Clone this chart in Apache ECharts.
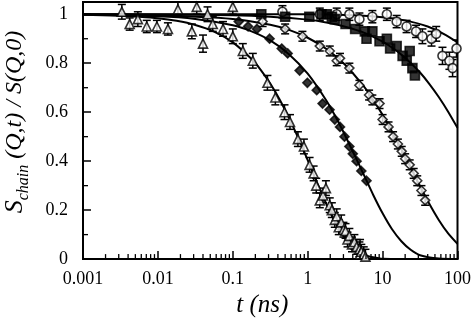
<!DOCTYPE html>
<html>
<head>
<meta charset="utf-8">
<script src="https://cdn.jsdelivr.net/npm/echarts@6/dist/echarts.min.js"></script>
<style>
html,body{margin:0;padding:0;background:#fff;}
#chart{width:474px;height:323px;}
</style>
</head>
<body>
<div id="chart"></div>
<script>
// Tick labels
const xTickLabels = ['0.001', '0.01', '0.1', '1', '10', '100'];
const yTickValues = [0, 0.2, 0.4, 0.6, 0.8, 1];
const yTickLabels = ['0', '0.2', '0.4', '0.6', '0.8', '1'];
const xMinorTicks = [0.002,0.003,0.004,0.005,0.006,0.007,0.008,0.009,
  0.02,0.03,0.04,0.05,0.06,0.07,0.08,0.09,
  0.2,0.3,0.4,0.5,0.6,0.7,0.8,0.9,
  2,3,4,5,6,7,8,9,
  20,30,40,50,60,70,80,90];
const yMinorTicks = [0.1, 0.3, 0.5, 0.7, 0.9];

// Measured S_chain(Q,t)/S(Q,0), largest Q first
const tA = [0.0033,0.0042,0.0054,0.0071,0.0097,0.0136,0.0185,0.0284,0.033,0.04,0.046,0.054,0.074,0.1,0.1,0.136,0.185,0.29,0.37,0.49,0.58,0.74,0.89,1.06,1.2,1.3,1.45,1.6,1.75,1.97,2.1,2.3,2.44,2.6,2.8,3.0,3.2,3.4,3.6,3.9,4.2,4.5,4.9,5.0,5.2,5.6,5.9];
const sA = [1.01,0.96,0.98,0.95,0.95,0.94,1.02,0.93,1.03,0.88,1.0,0.96,0.94,1.03,0.91,0.85,0.81,0.72,0.66,0.60,0.56,0.49,0.46,0.385,0.35,0.30,0.24,0.26,0.29,0.22,0.20,0.16,0.175,0.13,0.15,0.12,0.115,0.08,0.095,0.06,0.07,0.05,0.04,0.02,0.03,0.02,0.01];
const eA = [0.03,0.025,0.03,0.025,0.025,0.025,0.03,0.03,0.03,0.035,0.03,0.03,0.03,0.03,0.03,0.03,0.03,0.03,0.03,0.03,0.03,0.03,0.03,0.03,0.03,0.03,0.03,0.03,0.03,0.03,0.03,0.03,0.03,0.03,0.03,0.03,0.03,0.03,0.03,0.03,0.03,0.03,0.03,0.06,0.03,0.03,0.03];

const tB = [0.12,0.16,0.21,0.31,0.45,0.54,0.78,0.99,1.32,1.58,1.96,2.3,2.7,3.1,3.6,4.0,4.5,5.2,6.1];
const sB = [0.97,0.95,0.94,0.90,0.86,0.84,0.77,0.72,0.69,0.635,0.61,0.57,0.54,0.50,0.46,0.43,0.40,0.36,0.32];

const tC = [0.25,0.5,0.85,1.45,1.97,2.44,2.7,3.6,4.9,6.6,7.3,9.1,10,12,13.8,16,18,20,23,26,29,33,37];
const sC = [0.97,0.94,0.91,0.87,0.85,0.81,0.82,0.78,0.71,0.67,0.65,0.635,0.57,0.54,0.50,0.47,0.44,0.41,0.385,0.35,0.32,0.28,0.24];
const eC = [0.02,0.02,0.02,0.02,0.02,0.02,0.02,0.02,0.02,0.02,0.02,0.02,0.02,0.02,0.02,0.02,0.02,0.02,0.02,0.02,0.02,0.02,0.02];

const tD = [0.24,0.5,1.05,1.53,1.8,2.1,2.3,3.2,4.3,5.8,6.1,7.3,9.1,11.4,12.6,15.4,18.5,21,23,25,27];
const sD = [1.0,0.99,0.99,1.0,1.0,0.99,0.98,0.96,0.94,0.93,0.90,0.93,0.89,0.90,0.86,0.87,0.83,0.81,0.85,0.78,0.75];

const tE = [0.46,1.45,2.44,3.6,4.9,7.3,11.4,15.4,20.9,28,34,45,52,63,78,86,97];
const sE = [1.01,1.0,1.0,1.0,0.98,0.99,1.0,0.97,0.95,0.93,0.91,0.90,0.92,0.83,0.81,0.78,0.86];
const eE = [0.025,0.025,0.025,0.025,0.025,0.025,0.025,0.025,0.025,0.025,0.03,0.03,0.03,0.035,0.035,0.035,0.035];

// Fitted curves
const fitAt = [0.001,0.00316,0.00562,0.01,0.0178,0.0316,0.0562,0.1,0.178,0.237,0.316,0.42,0.562,0.75,1,1.33,1.78,2.37,3.16,4.22,5.62,10,20];
const fitAs = [0.998,0.994,0.99,0.984,0.973,0.956,0.929,0.885,0.817,0.772,0.717,0.653,0.577,0.494,0.404,0.313,0.224,0.146,0.085,0.042,0.017,0.001,0];
const fitBt = [0.001,0.01,0.0316,0.1,0.178,0.316,0.562,1,1.78,2.37,3.16,4.22,5.62,7.5,10,13.3,17.8,23.7,31.6,56.2,100];
const fitBs = [0.999,0.992,0.981,0.955,0.930,0.893,0.837,0.757,0.647,0.58,0.505,0.425,0.344,0.262,0.187,0.123,0.073,0.038,0.016,0.002,0];
const fitCt = [0.001,0.01,0.1,0.316,0.562,1,1.78,3.16,5.62,7.5,10,13.3,17.8,23.7,31.6,42.2,56.2,75,100];
const fitCs = [0.999,0.996,0.981,0.957,0.936,0.904,0.858,0.794,0.705,0.65,0.589,0.522,0.449,0.373,0.298,0.225,0.16,0.105,0.062];
const fitDt = [0.001,0.01,0.1,0.316,1,1.78,3.16,5.62,10,13.3,17.8,23.7,31.6,42.2,56.2,75,100];
const fitDs = [1,0.999,0.996,0.99,0.978,0.966,0.949,0.925,0.888,0.864,0.835,0.801,0.762,0.715,0.662,0.602,0.536];
const fitEt = [0.001,1,5,10,20,40,70,100];
const fitEs = [1,1,0.995,0.988,0.975,0.95,0.915,0.885];

const zip = (a, b) => a.map((v, i) => [v, b[i]]);
const serif = 'Liberation Serif';

function curve(t, s) {
  return {
    type: 'line', data: zip(t, s), showSymbol: false, smooth: 0.2,
    lineStyle: {color: '#000', width: 2}, silent: true, z: 2
  };
}
function points(t, s, symbol, filled) {
  return {
    type: 'scatter', data: zip(t, s), symbol: symbol, symbolSize: 9,
    itemStyle: {color: filled ? '#000' : '#fff', borderColor: '#000', borderWidth: 1.6},
    silent: true, z: 4
  };
}
function errorBars(t, s, e) {
  return {
    type: 'custom', z: 3, silent: true, clip: true,
    data: t.map((v, i) => [v, s[i] - e[i], s[i] + e[i]]),
    encode: {x: 0, y: [1, 2]},
    renderItem(params, api) {
      const lo = api.coord([api.value(0), api.value(1)]);
      const hi = api.coord([api.value(0), api.value(2)]);
      const w = 4, st = {stroke: '#000', lineWidth: 1.5};
      return {type: 'group', children: [
        {type: 'line', shape: {x1: lo[0], y1: lo[1], x2: hi[0], y2: hi[1]}, style: st},
        {type: 'line', shape: {x1: lo[0] - w, y1: lo[1], x2: lo[0] + w, y2: lo[1]}, style: st},
        {type: 'line', shape: {x1: hi[0] - w, y1: hi[1], x2: hi[0] + w, y2: hi[1]}, style: st}
      ]};
    }
  };
}
// short inward ticks between the labelled ones
function minorTicks(values, horizontal) {
  return {
    type: 'custom', z: 5, silent: true, clip: false,
    data: values.map(v => horizontal ? [v, 0] : [0.001, v]),
    renderItem(params, api) {
      const p = api.coord([api.value(0), api.value(1)]);
      const shape = horizontal
        ? {x1: p[0], y1: p[1], x2: p[0], y2: p[1] - 5}
        : {x1: p[0], y1: p[1], x2: p[0] + 5, y2: p[1]};
      return {type: 'line', shape: shape, style: {stroke: '#000', lineWidth: 1.3}};
    }
  };
}

const italic = {fontFamily: serif, fontStyle: 'italic', color: '#000'};

const chart = echarts.init(document.getElementById('chart'), null, {renderer: 'canvas'});
chart.setOption({
  animation: false,
  backgroundColor: '#fff',
  grid: {left: 83, right: 16, top: 2, bottom: 56, show: true, borderColor: '#000', borderWidth: 2},
  graphic: [{
    type: 'text', x: 15, y: 122, rotation: Math.PI / 2, silent: true,
    style: {
      text: '{s|S}{sub|chain}{m| (Q,t) / S(Q,0)}',
      align: 'center', verticalAlign: 'middle',
      rich: {
        s: Object.assign({fontSize: 26, lineHeight: 34, verticalAlign: 'middle'}, italic),
        m: Object.assign({fontSize: 24, lineHeight: 34, verticalAlign: 'middle'}, italic),
        sub: Object.assign({fontSize: 16, lineHeight: 16, verticalAlign: 'bottom'}, italic)
      }
    }
  }],
  xAxis: {
    type: 'log', logBase: 10, min: 0.001, max: 100,
    name: 't (ns)', nameLocation: 'middle', nameGap: 26,
    nameTextStyle: Object.assign({fontSize: 25, padding: [0, 16, 0, 0]}, italic),
    axisLine: {show: true, lineStyle: {color: '#000', width: 2}},
    axisTick: {show: true, inside: true, length: 8, lineStyle: {color: '#000', width: 1.5}},
    axisLabel: {
      margin: 11, fontFamily: serif, fontSize: 18, color: '#000',
      formatter: v => xTickLabels[Math.round(Math.log10(v)) + 3]
    },
    splitLine: {show: false}, minorTick: {show: false}
  },
  yAxis: {
    type: 'value', min: 0, max: 1.05,
    axisLine: {show: true, lineStyle: {color: '#000', width: 2}},
    axisTick: {show: true, inside: true, length: 8, customValues: yTickValues, lineStyle: {color: '#000', width: 1.5}},
    axisLabel: {
      margin: 15, fontFamily: serif, fontSize: 18, color: '#000', customValues: yTickValues,
      formatter: v => yTickLabels[Math.round(v * 5)]
    },
    splitLine: {show: false}
  },
  series: [
    minorTicks(xMinorTicks, true),
    minorTicks(yMinorTicks, false),
    curve(fitEt, fitEs),
    curve(fitDt, fitDs),
    curve(fitCt, fitCs),
    curve(fitBt, fitBs),
    curve(fitAt, fitAs),
    errorBars(tA, sA, eA),
    errorBars(tC, sC, eC),
    errorBars(tE, sE, eE),
    points(tE, sE, 'circle', false),
    points(tD, sD, 'rect', true),
    points(tC, sC, 'diamond', false),
    points(tB, sB, 'diamond', true),
    points(tA, sA, 'triangle', false)
  ]
});
</script>
</body>
</html>
